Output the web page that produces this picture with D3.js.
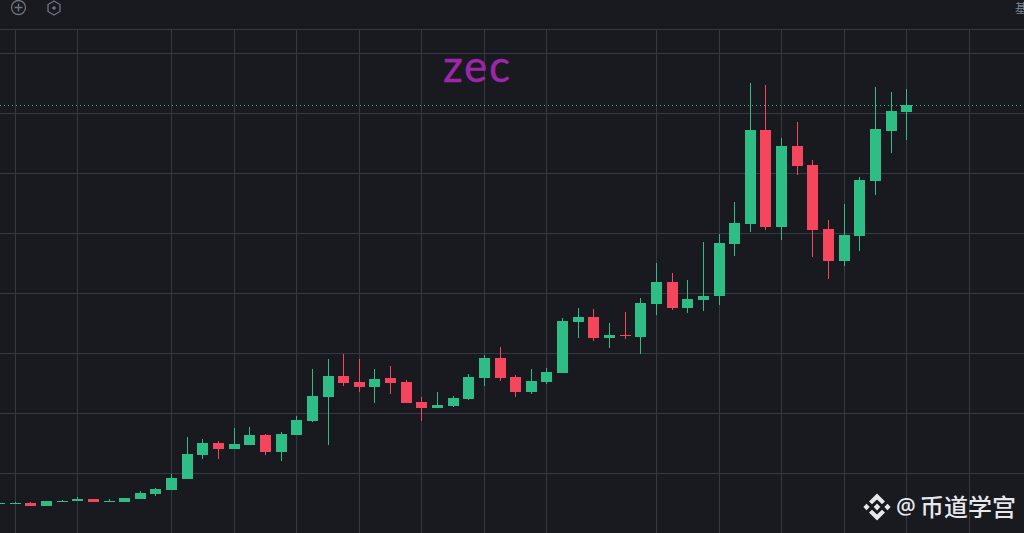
<!DOCTYPE html>
<html><head><meta charset="utf-8">
<script src="https://cdn.jsdelivr.net/npm/d3@7/dist/d3.min.js"></script>
<style>html,body{margin:0;padding:0;background:#181a20;overflow:hidden}svg{display:block}</style>
</head><body><svg id="c" width="1024" height="533"></svg>
<script>
// Candle index runs from -1 (clipped at left edge) to 57; values are in arbitrary chart units (no price axis is shown)
const candleIndex = d3.range(-1, 58);
const open  = [29,29,30,27,31,32,34,31,31,34,39,43,54,78,90,84,88,98,81,98,112,136,157,151,146,155,151,131,125,127,134,155,175,156,141,151,160,211,216,195,198,196,229,251,225,233,237,289,309,403,306,387,368,304,272,297,352,402,421];
const close = [30,30,27,32,32,34,31,32,35,40,44,55,79,90,84,89,98,81,99,113,137,157,150,146,154,150,130,125,128,135,156,175,155,141,152,161,212,216,195,198,197,230,251,225,234,237,290,310,403,306,387,367,303,272,298,353,404,422,428];
const high  = [30,31,31,32,33,36,34,34,35,42,45,59,96,94,92,105,106,99,101,117,164,174,179,174,164,167,153,136,141,137,159,178,186,158,164,165,215,225,224,210,221,235,270,260,253,291,299,331,450,448,395,411,373,313,329,356,446,441,444];
const low   = [29,29,27,27,31,32,31,31,31,34,37,43,54,74,74,84,88,78,72,98,111,88,147,141,130,139,130,112,125,126,133,147,152,136,139,149,160,195,192,185,194,179,218,223,220,222,228,277,301,303,293,358,276,254,267,282,338,380,393];
const gridValues = [59.5,119.5,179.5,239.5,299.5,359.5,419.5,479.5];
const gridIndex = [0,4,10,14,18,22,26,30,34,41,45,49,53,57,61];
const lastPrice = 427.5;
const titleText = "zec";
const watermarkText = "币道学宫";

const W = 1024, H = 533, TOP = 29;
const colors = {bg:"#181a20", grid:"#363942", up:"#2ebd85", down:"#f6465d", icon:"#6f747d"};
const svg = d3.select("#c");
const x = d3.scaleLinear().domain([0,61]).range([15.2,969.24]);
const y = d3.scaleLinear().domain([0,533]).range([533,0]);
const px = i => Math.floor(x(i));

svg.append("rect").attr("width",W).attr("height",H).attr("fill",colors.bg);

// grid
const g = svg.append("g").attr("shape-rendering","crispEdges").attr("stroke",colors.grid).attr("stroke-width",1);
g.selectAll(".h").data(gridValues).join("line").attr("x1",0).attr("x2",W).attr("y1",d=>y(d)).attr("y2",d=>y(d));
g.selectAll(".v").data(gridIndex).join("line").attr("x1",d=>px(d)+.5).attr("x2",d=>px(d)+.5).attr("y1",TOP).attr("y2",H);
g.append("line").attr("x1",0).attr("x2",W).attr("y1",TOP+.5).attr("y2",TOP+.5);

// toolbar icons
const ic = svg.append("g").attr("fill","none").attr("stroke",colors.icon).attr("stroke-width",1.3);
ic.append("circle").attr("cx",18.5).attr("cy",7.5).attr("r",7);
ic.append("path").attr("d","M18.5 3.5V11.5M14.5 7.5H22.5");
ic.append("path").attr("d","M54 1L60 4.5V11.5L54 15L48 11.5V4.5Z");
ic.append("circle").attr("cx",54).attr("cy",8).attr("r",1.8).attr("fill",colors.icon).attr("stroke","none");
svg.append("text").attr("x",1015).attr("y",13).attr("font-family","'Noto Sans CJK SC'").attr("font-size",12).attr("fill","#7d828b").text("基");

// title
svg.append("text").attr("x",443).attr("y",81.5).attr("font-family","Lato").attr("font-size",44).attr("letter-spacing",1.6)
  .attr("fill","#9c27a8").attr("stroke","#9c27a8").attr("stroke-width",0.4).text(titleText);

// last-price line
svg.append("line").attr("x1",0).attr("x2",W).attr("y1",y(lastPrice)).attr("y2",y(lastPrice))
  .attr("stroke",colors.up).attr("stroke-width",1).attr("stroke-dasharray","1 3").attr("shape-rendering","crispEdges");

// candles
const rows = candleIndex.map((idx,k)=>({idx,o:open[k],c:close[k],h:high[k],l:low[k]}));
const col = d => d.c>=d.o ? colors.up : colors.down;
const cg = svg.append("g").attr("shape-rendering","crispEdges");
cg.selectAll(".w").data(rows).join("rect").attr("x",d=>px(d.idx)).attr("width",1)
  .attr("y",d=>y(d.h)).attr("height",d=>y(d.l)-y(d.h)).attr("fill",col);
cg.selectAll(".b").data(rows).join("rect").attr("x",d=>px(d.idx)-5).attr("width",11)
  .attr("y",d=>y(Math.max(d.o,d.c))).attr("height",d=>Math.abs(d.o-d.c)).attr("fill",col);

// watermark
const wm = svg.append("g").attr("fill","#e6e8ea");
const logo = wm.append("g").attr("transform","translate(877,507)");
const dia = (cx,cy,r)=>`M${cx} ${cy-r}L${cx+r} ${cy}L${cx} ${cy+r}L${cx-r} ${cy}Z`;
logo.append("path").attr("d",dia(0,0,3.4));
logo.append("path").attr("d",dia(-10.5,0,3.2));
logo.append("path").attr("d",dia(10.5,0,3.2));
logo.append("path").attr("d","M0 -13.5L8 -5.5L5 -2.7L0 -7.5L-5 -2.7L-8 -5.5Z");
logo.append("path").attr("d","M0 13.5L8 5.5L5 2.7L0 7.5L-5 2.7L-8 5.5Z");
wm.append("text").attr("x",896).attr("y",514).attr("font-family","'Noto Sans'").attr("font-weight",500).attr("font-size",22).text("@");
wm.append("text").attr("x",920).attr("y",516).attr("font-family","'Noto Sans CJK SC'").attr("font-weight",500).attr("font-size",24).text(watermarkText);
</script></body></html>
